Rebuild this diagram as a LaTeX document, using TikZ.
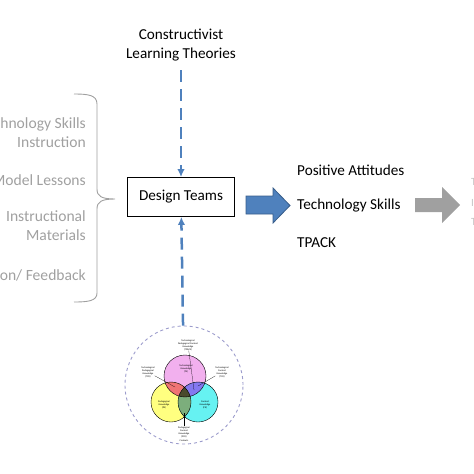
\documentclass[tikz,border=0pt]{standalone}
\usepackage{fontspec}
\setmainfont{Carlito}
\usetikzlibrary{arrows.meta, shapes.geometric}

\definecolor{linkblue}{HTML}{4F81BD}
\definecolor{arrowedge}{HTML}{385D8A}
\definecolor{sidegray}{HTML}{A0A0A0}
\definecolor{fadegray}{HTML}{C4C4C4}
\definecolor{ringblue}{HTML}{9C9CCC}
\definecolor{tkpink}{HTML}{F2B0EE}
\definecolor{pkyellow}{HTML}{FFFF80}
\definecolor{ckcyan}{HTML}{66F2F2}
\definecolor{tpkred}{HTML}{F07474}
\definecolor{tckblue}{HTML}{8478F0}
\definecolor{pckgreen}{HTML}{7CAE7C}
\definecolor{coreolive}{HTML}{4A4A2C}

\begin{document}
\begin{tikzpicture}[
    x = 1pt, y = -1pt,
    every node/.style = {font = \fontsize{15.2}{18.5}\selectfont, inner sep = 0pt},
    link/.style = {linkblue, line width = 2.5pt, dash pattern = on 12pt off 7pt,
      -{Latex[length = 8pt, width = 7.5pt]}},
    teambox/.style = {draw, line width = 0.9pt, minimum width = 107pt,
      minimum height = 39pt},
    sidetext/.style = {text = sidegray, align = right, anchor = east,
      font = \fontsize{15.6}{18.8}\selectfont},
    outcome/.style = {anchor = west},
    fadetext/.style = {text = fadegray, anchor = west,
      font = \fontsize{11}{13}\selectfont},
    ringnode/.style = {draw = ringblue, circle, dashed, line width = 0.9pt,
      minimum size = 118pt},
    venntiny/.style = {font = \fontsize{2.4}{2.9}\selectfont, align = center},
    leader/.style = {line width = 0.2pt}
  ]
  \useasboundingbox (0,0) rectangle (474,474);
  \clip (0,0) rectangle (474,474);

  % Main nodes
  \node[align = center] (ctheory) at (181,45) {Constructivist\\Learning Theories};
  \node[teambox] (dteams) at (181,197) {Design Teams};
  \node[ringnode] (tpackring) at (184,385) {};

  % Left column
  \node[sidetext] (skills) at (86,132.5) {Technology Skills\\Instruction};
  \node[sidetext] (lessons) at (86,180) {Model Lessons};
  \node[sidetext] (materials) at (86,226) {Instructional\\Materials};
  \node[sidetext] (feedback) at (86,275) {Reflection/ Feedback};
  \draw[sidegray, line width = 0.9pt]
    (74,94) .. controls (88,94) and (97,95) .. (97,104) -- (97,189)
    .. controls (97,196) and (101,199) .. (115,199)
    .. controls (101,199) and (97,202) .. (97,209) -- (97,293)
    .. controls (97,301) and (88,302) .. (74,302);

  % Outcomes
  \node[outcome] (attitudes) at (297,170) {Positive Attitudes};
  \node[outcome] (techskills) at (297,206) {Technology Skills};
  \node[outcome] (tpacktext) at (297,243) {TPACK};
  \node[fadetext] (fadeA) at (471,182) {T};
  \node[fadetext] (fadeB) at (471,203) {I};
  \node[fadetext] (fadeC) at (471,222) {T};

  % Connectors
  \draw[link, shorten < = 9pt] (ctheory) -- (dteams);
  \draw[link] (tpackring) -- (dteams);
  \draw[fill = linkblue, draw = arrowedge, line width = 0.8pt]
    (246,196) -- (273,196) -- (273,188) -- (290,205.5) -- (273,223)
    -- (273,214) -- (246,214) -- cycle;
  \fill[sidegray]
    (415,198) -- (442,198) -- (442,187) -- (460,205) -- (442,223)
    -- (442,212) -- (415,212) -- cycle;

  % TPACK circles
  \fill[tkpink] (185,376) circle (21);
  \fill[pkyellow] (171,402) circle (20);
  \fill[ckcyan] (198,402) circle (20);
  \begin{scope}
    \clip (185,376) circle (21);
    \fill[tpkred] (171,402) circle (20);
    \fill[tckblue] (198,402) circle (20);
  \end{scope}
  \begin{scope}
    \clip (171,402) circle (20);
    \fill[pckgreen] (198,402) circle (20);
    \clip (185,376) circle (21);
    \fill[coreolive] (198,402) circle (20);
  \end{scope}
  \draw[line width = 0.4pt] (185,376) circle (21) (171,402) circle (20)
    (198,402) circle (20);

  % TPACK labels
  \node[venntiny] (tklabel) at (186,369) {Technological\\Knowledge\\(TK)};
  \node[venntiny] (pklabel) at (164,405) {Pedagogical\\Knowledge\\(PK)};
  \node[venntiny] (cklabel) at (205,405) {Content\\Knowledge\\(CK)};
  \node[venntiny] (tpacklabel) at (188,345) {Technological\\Pedagogical Content\\Knowledge\\(TPACK)};
  \node[venntiny] (tpklabel) at (148,372) {Technological\\Pedagogical\\Knowledge\\(TPK)};
  \node[venntiny] (tcklabel) at (222,372) {Technological\\Content\\Knowledge\\(TCK)};
  \node[venntiny] (pcklabel) at (184,432) {Pedagogical\\Content\\Knowledge\\(PCK)};
  \node[venntiny] (ctxlabel) at (184,441) {Contexts};
  \draw[leader] (tpacklabel) -- (194,390);
  \draw[leader] (tpklabel) -- (175,387);
  \draw[leader] (tcklabel) -- (198,386);
  \draw[leader] (pcklabel) -- (184,413);
\end{tikzpicture}
\end{document}
